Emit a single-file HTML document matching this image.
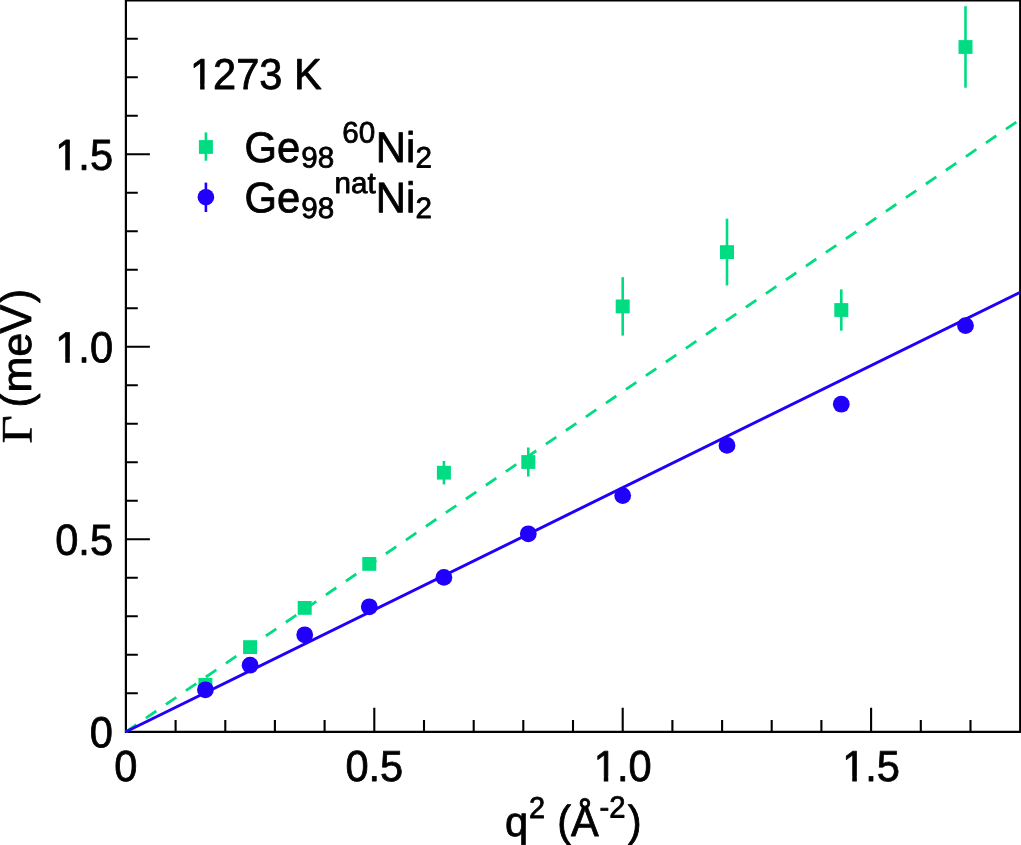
<!DOCTYPE html>
<html><head><meta charset="utf-8"><title>Linewidth vs q squared</title>
<style>html,body{margin:0;padding:0;background:#fff;}svg{display:block;}text{font-family:"Liberation Sans",sans-serif;fill:#000;stroke:#000;stroke-width:0.8;stroke-linejoin:round;}.sym{font-family:"Liberation Serif",serif;stroke-width:0.5;}</style></head>
<body>
<svg width="1021" height="845" viewBox="0 0 1021 845">
<rect x="0" y="0" width="1021" height="845" fill="#fff"/>
<path d="M125.9 0.5 H1020.2 V731.8 H125.9 Z" fill="none" stroke="#000" stroke-width="2.2"/>
<path d="M175.6 731.8 v-11.9 M225.3 731.8 v-11.9 M274.9 731.8 v-11.9 M324.6 731.8 v-11.9 M374.3 731.8 v-24.0 M424.0 731.8 v-11.9 M473.7 731.8 v-11.9 M523.3 731.8 v-11.9 M573.0 731.8 v-11.9 M622.7 731.8 v-24.0 M672.4 731.8 v-11.9 M722.1 731.8 v-11.9 M771.7 731.8 v-11.9 M821.4 731.8 v-11.9 M871.1 731.8 v-24.0 M920.8 731.8 v-11.9 M970.5 731.8 v-11.9 M125.9 693.3 h11.9 M125.9 654.8 h11.9 M125.9 616.3 h11.9 M125.9 577.8 h11.9 M125.9 539.3 h24.0 M125.9 500.8 h11.9 M125.9 462.3 h11.9 M125.9 423.8 h11.9 M125.9 385.3 h11.9 M125.9 346.8 h24.0 M125.9 308.3 h11.9 M125.9 269.8 h11.9 M125.9 231.3 h11.9 M125.9 192.8 h11.9 M125.9 154.3 h24.0 M125.9 115.8 h11.9 M125.9 77.3 h11.9 M125.9 38.8 h11.9" fill="none" stroke="#000" stroke-width="2.1"/>
<line x1="125.9" y1="731.8" x2="1020.2" y2="119.4" stroke="#00DC82" stroke-width="2.8" stroke-dasharray="12.6 11.64"/>
<line x1="125.9" y1="731.8" x2="1020.2" y2="292.3" stroke="#2000FA" stroke-width="2.95"/>
<rect x="198.4" y="677.9" width="14" height="13.8" fill="#00DC82"/>
<rect x="243.1" y="640.2" width="14" height="13.8" fill="#00DC82"/>
<rect x="297.7" y="601.0" width="14" height="13.8" fill="#00DC82"/>
<rect x="362.3" y="557.0" width="14" height="13.8" fill="#00DC82"/>
<line x1="443.9" y1="461.0" x2="443.9" y2="484.4" stroke="#00DC82" stroke-width="2.6"/>
<rect x="436.9" y="465.8" width="14" height="13.8" fill="#00DC82"/>
<line x1="528.3" y1="447.5" x2="528.3" y2="476.5" stroke="#00DC82" stroke-width="2.6"/>
<rect x="521.3" y="455.1" width="14" height="13.8" fill="#00DC82"/>
<line x1="622.7" y1="277.2" x2="622.7" y2="335.6" stroke="#00DC82" stroke-width="2.6"/>
<rect x="615.7" y="299.5" width="14" height="13.8" fill="#00DC82"/>
<line x1="727.0" y1="218.7" x2="727.0" y2="285.5" stroke="#00DC82" stroke-width="2.6"/>
<rect x="720.0" y="245.2" width="14" height="13.8" fill="#00DC82"/>
<line x1="841.3" y1="289.4" x2="841.3" y2="330.6" stroke="#00DC82" stroke-width="2.6"/>
<rect x="834.3" y="303.1" width="14" height="13.8" fill="#00DC82"/>
<line x1="965.5" y1="6.2" x2="965.5" y2="87.7" stroke="#00DC82" stroke-width="2.6"/>
<rect x="958.5" y="40.1" width="14" height="13.8" fill="#00DC82"/>
<circle cx="205.4" cy="689.8" r="8.4" fill="#2000FA"/>
<circle cx="250.1" cy="665.2" r="8.4" fill="#2000FA"/>
<circle cx="304.7" cy="634.8" r="8.4" fill="#2000FA"/>
<circle cx="369.3" cy="606.8" r="8.4" fill="#2000FA"/>
<circle cx="443.9" cy="577.4" r="8.4" fill="#2000FA"/>
<circle cx="528.3" cy="533.8" r="8.4" fill="#2000FA"/>
<circle cx="622.7" cy="495.6" r="8.4" fill="#2000FA"/>
<circle cx="727.0" cy="445.4" r="8.4" fill="#2000FA"/>
<circle cx="841.3" cy="404.2" r="8.4" fill="#2000FA"/>
<circle cx="965.5" cy="325.6" r="8.4" fill="#2000FA"/>
<line x1="205.9" y1="132.4" x2="205.9" y2="160.7" stroke="#00DC82" stroke-width="2.6"/><rect x="198.9" y="140.1" width="14" height="13.8" fill="#00DC82"/>
<line x1="205.9" y1="182.6" x2="205.9" y2="212" stroke="#2000FA" stroke-width="2.6"/><circle cx="205.9" cy="197.2" r="8.3" fill="#2000FA"/>
<text transform="translate(190.0 88.9) rotate(0.03) scale(0.96 1)" font-size="43.3" text-anchor="start">1273 K</text>
<text transform="translate(244.6 161.9) rotate(0.03) scale(0.975 1)" font-size="42.8" text-anchor="start">Ge</text>
<text transform="translate(301.2 167.6) rotate(0.03) scale(1.0 1)" font-size="29.6" text-anchor="start">98</text>
<text transform="translate(342.3 142.5) rotate(0.03) scale(1.0 1)" font-size="29.6" text-anchor="start">60</text>
<text transform="translate(375.8 161.9) rotate(0.03) scale(0.975 1)" font-size="42.8" text-anchor="start">Ni</text>
<text transform="translate(415.6 167.6) rotate(0.03) scale(1.0 1)" font-size="29.6" text-anchor="start">2</text>
<text transform="translate(244.6 212.3) rotate(0.03) scale(0.975 1)" font-size="42.8" text-anchor="start">Ge</text>
<text transform="translate(301.2 218.0) rotate(0.03) scale(1.0 1)" font-size="29.6" text-anchor="start">98</text>
<text transform="translate(334.6 192.9) rotate(0.03) scale(1.0 1)" font-size="29.6" text-anchor="start">nat</text>
<text transform="translate(375.8 212.3) rotate(0.03) scale(0.975 1)" font-size="42.8" text-anchor="start">Ni</text>
<text transform="translate(415.6 218.0) rotate(0.03) scale(1.0 1)" font-size="29.6" text-anchor="start">2</text>
<text transform="translate(125.9 781.0) rotate(0.03) scale(0.958 1.0)" font-size="43.4" text-anchor="middle">0</text>
<text transform="translate(374.3 781.0) rotate(0.03) scale(0.958 1.0)" font-size="43.4" text-anchor="middle">0.5</text>
<text transform="translate(622.7 781.0) rotate(0.03) scale(0.958 1.0)" font-size="43.4" text-anchor="middle">1.0</text>
<text transform="translate(871.1 781.0) rotate(0.03) scale(0.958 1.0)" font-size="43.4" text-anchor="middle">1.5</text>
<text transform="translate(113.0 747.2) rotate(0.03) scale(0.958 1.0)" font-size="43.4" text-anchor="end">0</text>
<text transform="translate(113.0 554.7) rotate(0.03) scale(0.958 1.0)" font-size="43.4" text-anchor="end">0.5</text>
<text transform="translate(113.0 362.2) rotate(0.03) scale(0.958 1.0)" font-size="43.4" text-anchor="end">1.0</text>
<text transform="translate(113.0 169.7) rotate(0.03) scale(0.958 1.0)" font-size="43.4" text-anchor="end">1.5</text>
<text transform="translate(505.0 835.9) rotate(0.03) scale(1.0 1)" font-size="41.6" text-anchor="start">q</text>
<text transform="translate(529.0 818.0) rotate(0.03) scale(0.958 1)" font-size="30.2" text-anchor="start">2</text>
<text transform="translate(557.2 835.9) rotate(0.03) scale(0.958 1)" font-size="43.4" text-anchor="start">(Å</text>
<text transform="translate(599.6 817.5) rotate(0.03) scale(0.958 1)" font-size="30.6" text-anchor="start">-2</text>
<text transform="translate(627.7 835.9) rotate(0.03) scale(0.958 1)" font-size="43.4" text-anchor="start">)</text>
<text class="sym" transform="translate(31.6 443.5) rotate(-89.97) scale(1.12 1)" font-size="43.5">Γ</text>
<text transform="translate(31.0 407.6) rotate(-89.97) scale(0.97 1)" font-size="43.6">(</text>
<text transform="translate(31.0 392.6) rotate(-89.97) scale(1.048 1)" font-size="41.2">me</text>
<text transform="translate(31.0 333.4) rotate(-89.97) scale(0.97 1)" font-size="44.5">V</text>
<text transform="translate(31.0 303.0) rotate(-89.97) scale(0.97 1)" font-size="43.6">)</text>
<g fill="#fff">
<rect x="190.50" y="84.40" width="9.62" height="7.00"/>
<rect x="204.57" y="84.40" width="8.93" height="7.00"/>
<rect x="594.50" y="776.40" width="9.31" height="7.00"/>
<rect x="608.26" y="776.40" width="9.24" height="7.00"/>
<rect x="843.50" y="776.40" width="8.73" height="7.00"/>
<rect x="856.84" y="776.40" width="8.66" height="7.00"/>
<rect x="56.50" y="357.40" width="8.73" height="7.00"/>
<rect x="69.84" y="357.40" width="8.66" height="7.00"/>
<rect x="56.50" y="165.40" width="8.73" height="7.00"/>
<rect x="69.84" y="165.40" width="8.66" height="7.00"/>
</g>
</svg>
</body></html>
